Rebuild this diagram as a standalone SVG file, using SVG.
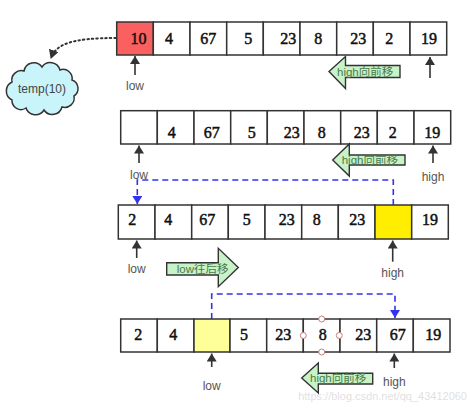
<svg xmlns="http://www.w3.org/2000/svg" width="474" height="402" viewBox="0 0 474 402">
<style>
.cell{fill:#fff;stroke:#333;stroke-width:1.5}
.num{font-family:"Liberation Serif",serif;font-size:16px;fill:#111;stroke:#111;stroke-width:0.5;text-anchor:middle}
.lbl{font-family:"Liberation Sans",sans-serif;font-size:12px;fill:#555;text-anchor:middle}
.ptr{stroke:#333;stroke-width:1.6;fill:none}
.big{fill:#c8f2c8;stroke:#333;stroke-width:1.4}
.bigt{font-family:"Liberation Sans","Noto Sans CJK SC",sans-serif;font-size:11.5px;fill:#4a7a4a}
.blue{stroke:#3333ee;stroke-width:1.6;fill:none;stroke-dasharray:6 4}
.hdl{fill:#fff;stroke:#c08080;stroke-width:1}
</style>
<defs>
<marker id="ah" markerWidth="8" markerHeight="10" refX="8" refY="5" orient="auto" markerUnits="userSpaceOnUse">
<path d="M0,0 L8,5 L0,10 z" fill="#333"/>
</marker>
<marker id="bh" markerWidth="8" markerHeight="10" refX="8" refY="5" orient="auto" markerUnits="userSpaceOnUse">
<path d="M0,0 L8,5 L0,10 z" fill="#3333ee"/>
</marker>
<marker id="dh" markerWidth="9" markerHeight="10" refX="8" refY="5" orient="auto" markerUnits="userSpaceOnUse">
<path d="M0,0 L9,5 L0,10 z" fill="#333"/>
</marker>
</defs>

<text x="467" y="400" font-family="Liberation Sans,sans-serif" font-size="11" fill="#d8d8d8" fill-opacity="0.8" text-anchor="end">https://blog.csdn.net/qq_43412060</text>

<g id="connectors">
<path d="M116,38 C72,38 56,44 51,58" fill="none" stroke="#333" stroke-width="2" stroke-dasharray="1.5 3" stroke-linecap="round" marker-end="url(#dh)"/>
<path class="blue" d="M393.3,205 V180 H137.3 V204" marker-end="url(#bh)"/>
<path class="blue" d="M211.7,319 V294 H395 V318" marker-end="url(#bh)"/>
<line class="ptr" x1="135" y1="75" x2="135" y2="56" marker-end="url(#ah)"/>
<line class="ptr" x1="430" y1="78" x2="430" y2="57" marker-end="url(#ah)"/>
<line class="ptr" x1="139" y1="163" x2="139" y2="145.5" marker-end="url(#ah)"/>
<line class="ptr" x1="433" y1="163" x2="433" y2="145.5" marker-end="url(#ah)"/>
<line class="ptr" x1="136.7" y1="258" x2="136.7" y2="240.5" marker-end="url(#ah)"/>
<line class="ptr" x1="392.7" y1="261.7" x2="392.7" y2="240.5" marker-end="url(#ah)"/>
<line class="ptr" x1="211.7" y1="367" x2="211.7" y2="353.5" marker-end="url(#ah)"/>
<line class="ptr" x1="394.3" y1="368" x2="394.3" y2="353.5" marker-end="url(#ah)"/>
</g>

<g id="temp">
<path d="M12,82 A9.5,9.5 0 0 1 24,71 A10,10 0 0 1 42,67 A10,10 0 0 1 60,70 A9,9 0 0 1 72,80 A9,9 0 0 1 74,96 A9.5,9.5 0 0 1 62,107 A10,10 0 0 1 44,110 A10,10 0 0 1 26,108 A9,9 0 0 1 12,100 A10,10 0 0 1 12,82 Z" fill="#c9f4fa" stroke="#333" stroke-width="1.5"/>
<text x="42" y="93" font-family="Liberation Sans,sans-serif" font-size="12" fill="#444" text-anchor="middle">temp(10)</text>
</g>

<g id="row1">
<rect class="cell" x="116.7" y="22" width="36.6" height="33" style="fill:#fa6060"/>
<rect class="cell" x="153.3" y="22" width="36.7" height="33"/>
<rect class="cell" x="190" y="22" width="36.7" height="33"/>
<rect class="cell" x="226.7" y="22" width="36.6" height="33"/>
<rect class="cell" x="263.3" y="22" width="36.7" height="33"/>
<rect class="cell" x="300" y="22" width="36.7" height="33"/>
<rect class="cell" x="336.7" y="22" width="36.6" height="33"/>
<rect class="cell" x="373.3" y="22" width="36.7" height="33"/>
<rect class="cell" x="410" y="22" width="36.7" height="33"/>
<text class="num" x="138.5" y="44">10</text>
<text class="num" x="169" y="44">4</text>
<text class="num" x="208.3" y="44">67</text>
<text class="num" x="248.3" y="44">5</text>
<text class="num" x="288.3" y="44">23</text>
<text class="num" x="318.3" y="44">8</text>
<text class="num" x="358.3" y="44">23</text>
<text class="num" x="389.3" y="44">2</text>
<text class="num" x="429" y="44">19</text>
<text class="lbl" x="135" y="90">low</text>
</g>

<g id="move1">
<polygon class="big" points="329,71.5 345.5,56.5 345.5,65.5 400,65.5 400,77.5 345.5,77.5 345.5,88.5"/>
<text class="bigt" x="337" y="75.5">high向前移</text>
</g>

<g id="row2">
<rect class="cell" x="120.7" y="110.7" width="36.6" height="33.3"/>
<rect class="cell" x="157.3" y="110.7" width="36.7" height="33.3"/>
<rect class="cell" x="194" y="110.7" width="36.7" height="33.3"/>
<rect class="cell" x="230.7" y="110.7" width="36.6" height="33.3"/>
<rect class="cell" x="267.3" y="110.7" width="36.7" height="33.3"/>
<rect class="cell" x="304" y="110.7" width="36.7" height="33.3"/>
<rect class="cell" x="340.7" y="110.7" width="36.6" height="33.3"/>
<rect class="cell" x="377.3" y="110.7" width="36.7" height="33.3"/>
<rect class="cell" x="414" y="110.7" width="36.7" height="33.3"/>
<text class="num" x="171.7" y="138">4</text>
<text class="num" x="211.7" y="138">67</text>
<text class="num" x="251.7" y="138">5</text>
<text class="num" x="291.7" y="138">23</text>
<text class="num" x="321.7" y="138">8</text>
<text class="num" x="361.7" y="138">23</text>
<text class="num" x="392.7" y="138">2</text>
<text class="num" x="432.3" y="138">19</text>
<text class="lbl" x="139" y="179">low</text>
<text class="lbl" x="433" y="181">high</text>
</g>

<g id="move2">
<polygon class="big" points="332.7,160 349.3,144 349.3,155 405,155 405,165 349.3,165 349.3,176"/>
<text class="bigt" x="341.7" y="164">high向前移</text>
</g>

<g id="row3">
<rect class="cell" x="118.3" y="205" width="36.7" height="34"/>
<rect class="cell" x="155" y="205" width="36.7" height="34"/>
<rect class="cell" x="191.7" y="205" width="36.6" height="34"/>
<rect class="cell" x="228.3" y="205" width="36.7" height="34"/>
<rect class="cell" x="265" y="205" width="36.7" height="34"/>
<rect class="cell" x="301.7" y="205" width="36.6" height="34"/>
<rect class="cell" x="338.3" y="205" width="36.7" height="34"/>
<rect class="cell" x="375" y="205" width="36.7" height="34" style="fill:#ffee00"/>
<rect class="cell" x="411.7" y="205" width="36.6" height="34"/>
<text class="num" x="132.3" y="225">2</text>
<text class="num" x="168.3" y="225">4</text>
<text class="num" x="207.3" y="225">67</text>
<text class="num" x="246.7" y="225">5</text>
<text class="num" x="286.7" y="225">23</text>
<text class="num" x="316.7" y="225">8</text>
<text class="num" x="357.3" y="225">23</text>
<text class="num" x="430" y="225">19</text>
<text class="lbl" x="136.7" y="273">low</text>
<text class="lbl" x="392.7" y="277">high</text>
</g>

<g id="move3">
<polygon class="big" points="166.7,262.7 218.3,262.7 218.3,248.3 238.3,267.5 218.3,286.7 218.3,275 166.7,275"/>
<text class="bigt" x="176.7" y="272.5">low往后移</text>
</g>

<g id="row4">
<rect class="cell" x="120.7" y="319" width="36.6" height="33"/>
<rect class="cell" x="157.3" y="319" width="36.7" height="33"/>
<rect class="cell" x="194" y="319" width="36" height="33" style="fill:#ffff99"/>
<rect class="cell" x="230" y="319" width="36.7" height="33"/>
<rect class="cell" x="266.7" y="319" width="36.6" height="33"/>
<rect class="cell" x="303.3" y="319" width="36.7" height="33"/>
<rect class="cell" x="340" y="319" width="36.7" height="33"/>
<rect class="cell" x="376.7" y="319" width="36.6" height="33"/>
<rect class="cell" x="413.3" y="319" width="36.7" height="33"/>
<text class="num" x="138.3" y="340">2</text>
<text class="num" x="173.3" y="340">4</text>
<text class="num" x="244" y="340">5</text>
<text class="num" x="283.3" y="340">23</text>
<text class="num" x="322.7" y="340">8</text>
<text class="num" x="363.3" y="340">23</text>
<text class="num" x="397.7" y="340">67</text>
<text class="num" x="433.3" y="340">19</text>
<circle class="hdl" cx="321.7" cy="319" r="3"/>
<circle class="hdl" cx="321.7" cy="352" r="3"/>
<circle class="hdl" cx="303.3" cy="335.5" r="3"/>
<circle class="hdl" cx="339.3" cy="335.5" r="3"/>
<text class="lbl" x="211.7" y="390">low</text>
<text class="lbl" x="394.3" y="386">high</text>
</g>

<g id="move4">
<polygon class="big" points="301.7,378 318.3,363 318.3,373.3 372.7,373.3 372.7,384 318.3,384 318.3,393"/>
<text class="bigt" x="310" y="382">high向前移</text>
</g>
</svg>
